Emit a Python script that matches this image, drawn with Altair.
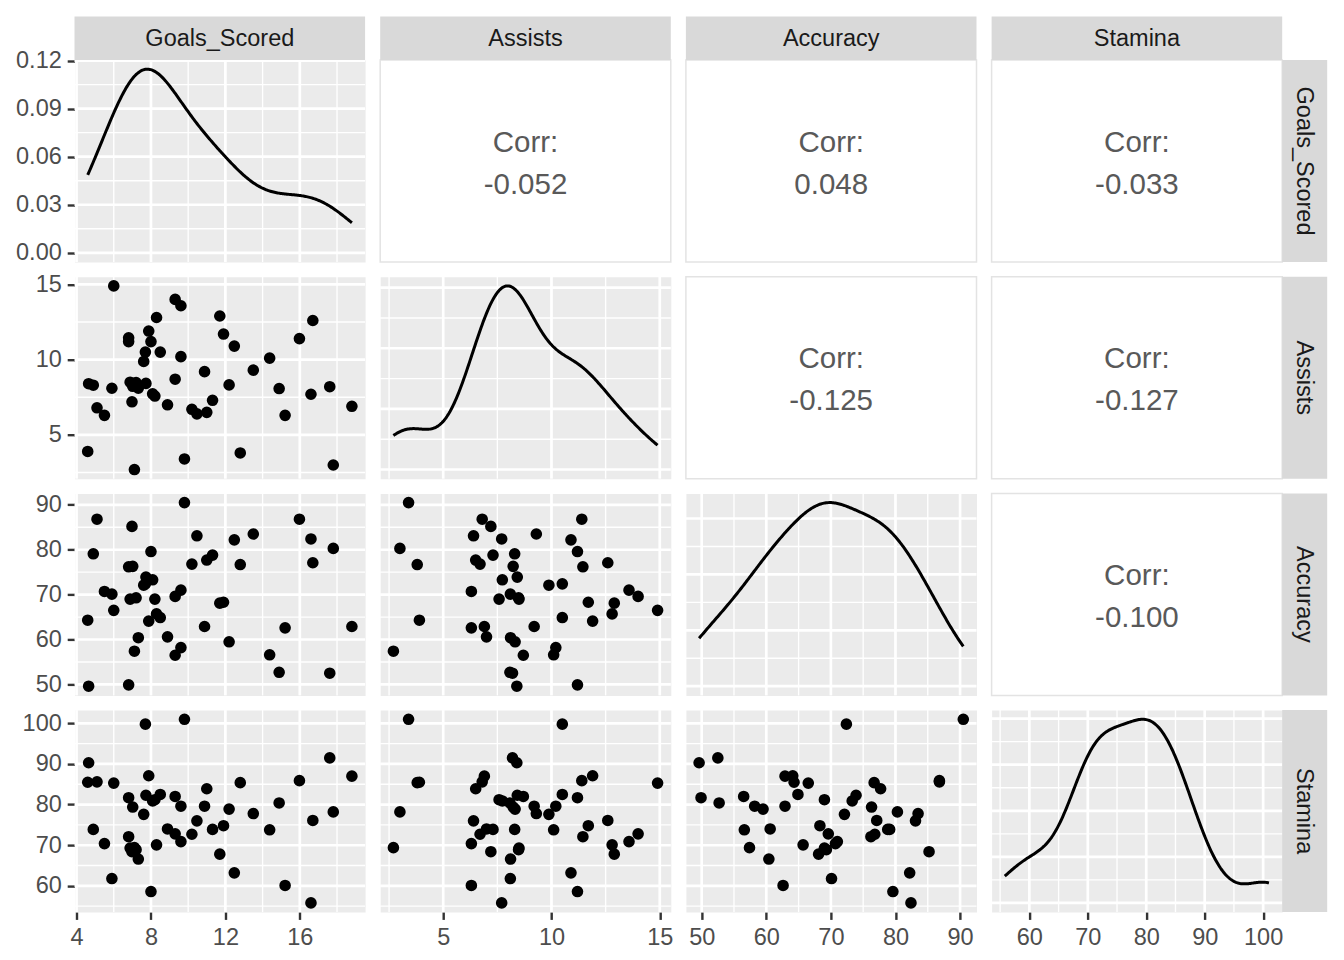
import numpy as np
import pandas as pd
import altair as alt

# ---------------- data ----------------
VARS = ["Goals_Scored", "Assists", "Accuracy", "Stamina"]

goals_scored = [4.6, 4.65, 4.9, 5.1, 5.5, 5.9, 6.0, 6.8, 6.8, 6.88,
                6.98, 7.02, 7.11, 7.2, 7.32, 7.61, 7.7, 7.73, 7.88, 8.0,
                8.09, 8.21, 8.3, 8.5, 8.89, 9.3, 9.3, 9.61, 9.61, 9.8,
                10.2, 10.47, 10.88, 11.0, 11.31, 11.7, 11.9, 12.2, 12.48, 12.8,
                13.5, 14.38, 14.89, 15.21, 15.98, 16.6, 16.7, 17.61, 17.8, 18.8]
assists = [3.9, 8.4, 8.3, 6.8, 6.3, 8.1, 14.9, 11.45, 11.2, 8.5,
           7.2, 8.23, 2.7, 8.48, 8.11, 9.88, 10.5, 8.42, 11.9, 11.2,
           7.73, 7.58, 12.8, 10.5, 7.0, 14.0, 8.7, 13.58, 10.2, 3.4,
           6.7, 6.4, 9.2, 6.5, 7.3, 12.9, 11.7, 8.32, 10.9, 3.8,
           9.3, 10.1, 8.08, 6.3, 11.4, 7.7, 12.6, 8.2, 3.0, 6.9]
accuracy = [64.3, 49.6, 79.1, 86.8, 70.7, 70.1, 66.5, 76.2, 49.9, 69.0,
            85.2, 76.3, 57.4, 69.3, 60.4, 72.1, 72.4, 73.9, 64.1, 79.6,
            73.3, 69.0, 65.7, 64.9, 60.6, 69.6, 56.5, 71.0, 58.2, 90.5,
            76.8, 83.1, 62.9, 77.7, 78.8, 68.1, 68.3, 59.5, 82.2, 76.7,
            83.5, 56.6, 52.7, 62.6, 86.8, 82.4, 77.1, 52.5, 80.3, 62.9]
stamina = [85.5, 90.3, 73.9, 85.6, 70.4, 61.8, 85.3, 72.1, 81.7, 69.3,
           68.4, 79.4, 69.4, 68.9, 66.6, 77.6, 99.8, 82.3, 87.1, 58.6,
           80.9, 81.2, 70.1, 82.5, 74.0, 72.8, 82.0, 70.9, 79.6, 101.0,
           72.7, 76.0, 79.6, 83.9, 73.9, 67.8, 74.8, 78.9, 63.2, 85.4,
           77.8, 73.8, 80.4, 60.1, 85.9, 55.8, 76.1, 91.5, 78.2, 87.0]

# correlation labels shown in the upper panels
corr_rows = [0, 0, 0, 1, 1, 2]
corr_cols = [1, 2, 3, 2, 3, 3]
corr_values = ["-0.052", "0.048", "-0.033", "-0.125", "-0.127", "-0.100"]

# axis tick labels
major_goals = [4, 8, 12, 16]
major_assists = [5, 10, 15]
major_accuracy = [50, 60, 70, 80, 90]
major_stamina = [60, 70, 80, 90, 100]
density_ticks_goals = [0.0, 0.03, 0.06, 0.09, 0.12]

df = pd.DataFrame({
    "Goals_Scored": goals_scored,
    "Assists": assists,
    "Accuracy": accuracy,
    "Stamina": stamina,
})

MAJOR = {"Goals_Scored": major_goals, "Assists": major_assists,
         "Accuracy": major_accuracy, "Stamina": major_stamina}

# ---------------- style ----------------
W, H, SP = 290.6, 202.0, 14.7
STRIP_H, STRIP_W = 43.5, 45.0
FONT = "Liberation Sans"
LABEL_SIZE = 23.5
CORR_SIZE = 29.5
PANEL_BG = "#EBEBEB"
STRIP_BG = "#D9D9D9"
MAJOR_W, MINOR_W = 2.7, 1.35


def expand(lo, hi, frac=0.05):
    r = hi - lo
    return [float(lo - frac * r), float(hi + frac * r)]


DOM = {v: expand(min(df[v]), max(df[v])) for v in VARS}


def minor_from(major, dom):
    step = major[1] - major[0]
    cands = [major[0] - step / 2] + [m + step / 2 for m in major]
    return [float(c) for c in cands if dom[0] <= c <= dom[1]]


MINOR = {v: minor_from(MAJOR[v], DOM[v]) for v in VARS}


def bw_nrd0(x):
    x = np.asarray(x, dtype=float)
    sd = x.std(ddof=1)
    q75, q25 = np.percentile(x, [75, 25])
    lo = min(sd, (q75 - q25) / 1.34)
    return float(0.9 * lo * len(x) ** -0.2)


def kde_max(x, bw):
    x = np.asarray(x, dtype=float)
    g = np.linspace(x.min(), x.max(), 512)
    d = np.exp(-0.5 * ((g[:, None] - x[None, :]) / bw) ** 2).sum(1)
    d = d / (len(x) * bw * np.sqrt(2 * np.pi))
    return float(d.max())


def density_breaks(hi):
    best = None
    k0 = 10 ** np.floor(np.log10(hi))
    for k in [k0 / 10, k0, k0 * 10]:
        for i, q in enumerate([1, 5, 2, 2.5, 4, 3]):
            step = q * k
            n = int(np.floor(hi / step + 1e-9)) + 1
            cov = (n - 1) * step / hi
            score = cov - 0.02 * i - (0.5 if (n < 4 or n > 6) else 0)
            if best is None or score > best[0]:
                best = (score, step, n)
    _, step, n = best
    return [float(i * step) for i in range(n)]


BW, DENS_DOM, DENS_MAJOR, DENS_MINOR = {}, {}, {}, {}
for v in VARS:
    BW[v] = bw_nrd0(df[v])
    m = kde_max(df[v], BW[v])
    DENS_DOM[v] = [float(-0.05 * m), float(1.05 * m)]
    if v == "Goals_Scored":
        DENS_MAJOR[v] = density_ticks_goals
    else:
        DENS_MAJOR[v] = density_breaks(DENS_DOM[v][1])
    DENS_MINOR[v] = minor_from(DENS_MAJOR[v], DENS_DOM[v])


def make_scale(domain):
    return alt.Scale(domain=[float(domain[0]), float(domain[1])], nice=False, zero=False)


def rules(vals, channel, scale, width, axis):
    if not vals:
        return []
    d = pd.DataFrame({"v": [float(v) for v in vals]})
    if channel == "x":
        enc = {"x": alt.X("v:Q", scale=scale, axis=axis)}
    else:
        enc = {"y": alt.Y("v:Q", scale=scale, axis=axis)}
    return [alt.Chart(d).mark_rule(color="white", strokeWidth=width).encode(**enc)]


def top_strip(label):
    d = pd.DataFrame({"label": [label]})
    rect = alt.Chart(d).mark_rect(color=STRIP_BG).encode(
        x=alt.value(0), x2=alt.value(W), y=alt.value(-STRIP_H), y2=alt.value(0))
    txt = alt.Chart(d).mark_text(font=FONT, fontSize=LABEL_SIZE, color="#1A1A1A",
                                 align="center", baseline="middle").encode(
        x=alt.value(W / 2), y=alt.value(-STRIP_H / 2 + 1), text="label:N")
    return [rect, txt]


def right_strip(label):
    d = pd.DataFrame({"label": [label]})
    rect = alt.Chart(d).mark_rect(color=STRIP_BG).encode(
        x=alt.value(W), x2=alt.value(W + STRIP_W), y=alt.value(0), y2=alt.value(H))
    txt = alt.Chart(d).mark_text(font=FONT, fontSize=LABEL_SIZE, color="#1A1A1A",
                                 align="center", baseline="middle", angle=90).encode(
        x=alt.value(W + STRIP_W / 2 - 1), y=alt.value(H / 2), text="label:N")
    return [rect, txt]


panels = []
for r in range(4):
    for c in range(4):
        xv, yv = VARS[c], VARS[r]
        layers = []
        if r < c:
            idx = [i for i in range(len(corr_rows)) if corr_rows[i] == r and corr_cols[i] == c][0]
            d1 = pd.DataFrame({"t": ["Corr:"]})
            d2 = pd.DataFrame({"t": [corr_values[idx]]})
            for d, yy in [(d1, 82.5), (d2, 124.5)]:
                layers.append(alt.Chart(d).mark_text(
                    font=FONT, fontSize=CORR_SIZE, color="#595959",
                    align="center", baseline="middle").encode(
                    x=alt.value(W / 2), y=alt.value(yy), text="t:N"))
            view = alt.ViewBackground(fill="white", stroke="#E3E3E3", strokeWidth=1.5)
        else:
            xs = make_scale(DOM[xv])
            if r == c:
                ys = make_scale(DENS_DOM[xv])
                ymaj, ymin = DENS_MAJOR[xv], DENS_MINOR[xv]
            else:
                ys = make_scale(DOM[yv])
                ymaj, ymin = MAJOR[yv], MINOR[yv]

            xaxis = alt.Axis(values=MAJOR[xv], title=None) if r == 3 else None
            if c == 0:
                if r == 0:
                    yaxis = alt.Axis(values=density_ticks_goals, format=".2f", title=None)
                else:
                    yaxis = alt.Axis(values=MAJOR[yv], title=None)
            else:
                yaxis = None

            layers += rules(MINOR[xv], "x", xs, MINOR_W, xaxis)
            layers += rules(ymin, "y", ys, MINOR_W, yaxis)
            layers += rules(MAJOR[xv], "x", xs, MAJOR_W, xaxis)
            layers += rules(ymaj, "y", ys, MAJOR_W, yaxis)

            if r == c:
                content = alt.Chart(df).transform_density(
                    xv, as_=["value", "density"], bandwidth=BW[xv],
                    extent=[float(min(df[xv])), float(max(df[xv]))], steps=256,
                ).mark_line(color="black", strokeWidth=3.0).encode(
                    x=alt.X("value:Q", scale=xs, axis=xaxis),
                    y=alt.Y("density:Q", scale=ys, axis=yaxis),
                )
            else:
                content = alt.Chart(df).mark_circle(size=135, color="black", opacity=1).encode(
                    x=alt.X(f"{xv}:Q", scale=xs, axis=xaxis),
                    y=alt.Y(f"{yv}:Q", scale=ys, axis=yaxis),
                )
            layers.append(content)
            view = alt.ViewBackground(fill=PANEL_BG, stroke="transparent")
        if r == 0:
            layers += top_strip(xv)
        if c == 3:
            layers += right_strip(yv)
        panels.append(alt.layer(*layers).properties(width=W, height=H, view=view))

chart = alt.concat(*panels, columns=4, spacing=SP, bounds="flush").properties(
    padding={"left": 6.5, "top": 7, "right": 4, "bottom": 4},
    background="white",
).configure_axis(
    labelFont=FONT, labelFontSize=LABEL_SIZE, labelColor="#4D4D4D",
    tickColor="#333333", tickSize=7.3, tickWidth=2.4, labelPadding=5.9,
    domain=False, grid=False, labelFlush=False, labelOverlap=False,
).configure_view(stroke="transparent")

chart.save("out.html", embed_options={"renderer": "svg", "actions": False})
